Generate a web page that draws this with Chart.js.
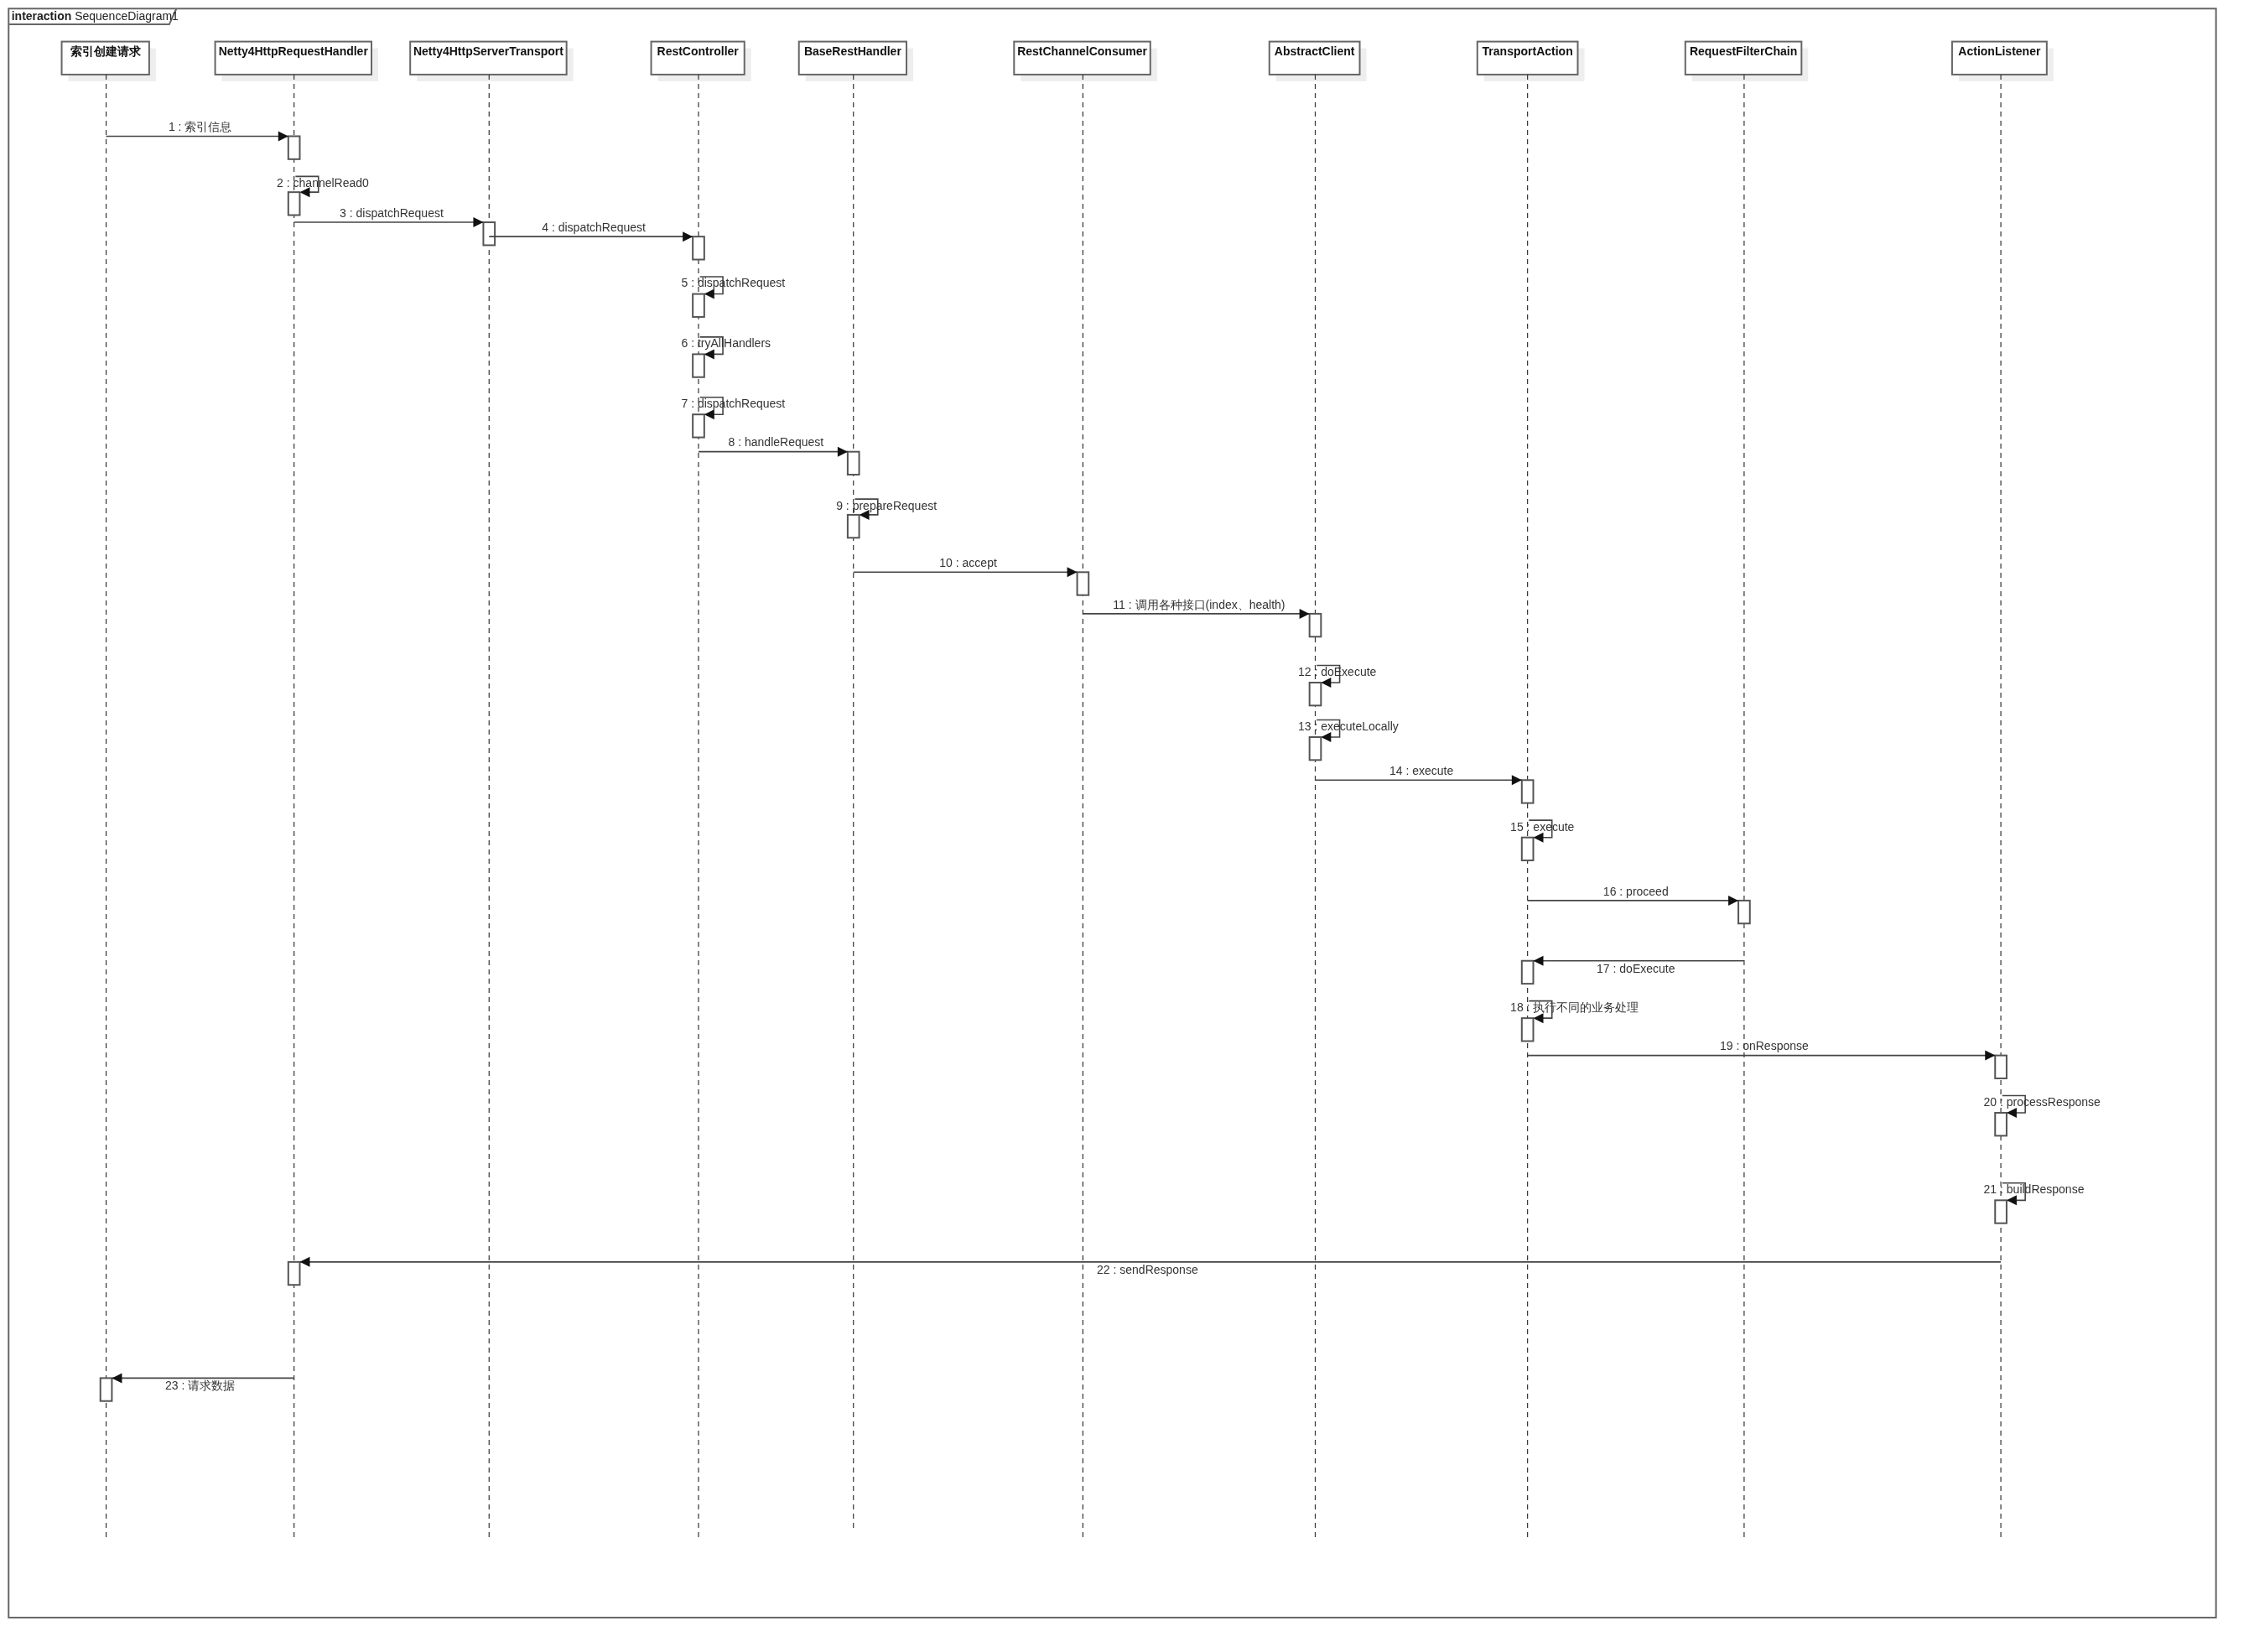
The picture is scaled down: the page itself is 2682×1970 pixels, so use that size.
<!DOCTYPE html>
<html><head><meta charset="utf-8">
<script src="https://cdn.jsdelivr.net/npm/chart.js@4.4.1/dist/chart.umd.min.js"></script>
<style>html,body{margin:0;padding:0;background:#fff}#w{width:2682px;height:1970px}</style>
</head><body><div id="w"><canvas id="c"></canvas></div>
<script>
const participants=["索引创建请求","Netty4HttpRequestHandler","Netty4HttpServerTransport","RestController","BaseRestHandler","RestChannelConsumer","AbstractClient","TransportAction","RequestFilterChain","ActionListener"];
const lifelineX=[74,205,341,487,595,755,917,1065,1216,1395];
const boxLeft=[43,150,286,454,557,707,885,1030,1175,1361];
const boxRight=[104,259,395,519,632,802,948,1100,1256,1427];
const msgLabels=["1 : 索引信息","2 : channelRead0","3 : dispatchRequest","4 : dispatchRequest","5 : dispatchRequest","6 : tryAllHandlers","7 : dispatchRequest","8 : handleRequest","9 : prepareRequest","10 : accept","11 : 调用各种接口(index、health)","12 : doExecute","13 : executeLocally","14 : execute","15 : execute","16 : proceed","17 : doExecute","18 : 执行不同的业务处理","19 : onResponse","20 : processResponse","21 : buildResponse","22 : sendResponse","23 : 请求数据"];
const msgFrom=[0,1,1,2,3,3,3,3,4,4,5,6,6,6,7,7,8,7,7,9,9,9,1];
const msgTo  =[1,1,2,3,3,3,3,4,4,5,6,6,6,7,7,8,7,7,9,9,9,1,0];
const msgY   =[95,123,155,165,193,235,277,315,348,399,428,464,502,544,572,628,670,698,736,764,825,880,961];
const actTop =[95,134,155,165,205,247,289,315,359,399,428,476,514,544,584,628,670,710,736,776,837,880,961];
const XMAX=1568,YMAX=1152,LIFE_END=1072;
const FONT='"Liberation Sans Narrow","Liberation Sans",Arial,sans-serif';

const plugin={id:'seq',afterDatasetsDraw(chart){
 const c=chart.ctx,X=v=>chart.scales.x.getPixelForValue(v),Y=v=>chart.scales.y.getPixelForValue(v);
 c.save();
 // frame
 c.strokeStyle='#666';c.lineWidth=2;
 c.strokeRect(X(6),Y(6),X(1545)-X(6),Y(1128)-Y(6));
 c.beginPath();c.moveTo(X(6),Y(17));c.lineTo(X(118),Y(17));c.lineTo(X(123),Y(6));c.stroke();
 c.fillStyle='#222';c.textBaseline='middle';c.textAlign='left';
 c.font='bold 14px '+FONT;c.fillText('interaction',X(8),Y(11.5));
 const w=c.measureText('interaction ').width;
 c.font='14px '+FONT;c.fillText('SequenceDiagram1',X(8)+w,Y(11.5));
 // participants
 participants.forEach((p,i)=>{
  c.fillStyle='#eee';c.fillRect(X(boxLeft[i])+8,Y(29)+8,X(boxRight[i])-X(boxLeft[i]),Y(52)-Y(29));
  c.fillStyle='#fff';c.fillRect(X(boxLeft[i]),Y(29),X(boxRight[i])-X(boxLeft[i]),Y(52)-Y(29));
  c.strokeStyle='#666';c.lineWidth=2;c.strokeRect(X(boxLeft[i]),Y(29),X(boxRight[i])-X(boxLeft[i]),Y(52)-Y(29));
  c.fillStyle='#111';c.font='bold 14px '+FONT;c.textAlign='center';
  c.fillText(p,X((boxLeft[i]+boxRight[i])/2),Y(36.5));
  c.strokeStyle='#333';c.lineWidth=1.2;c.setLineDash([6,5]);
  c.beginPath();c.moveTo(X(lifelineX[i]),Y(52));c.lineTo(X(i==4?1068:LIFE_END),Y(i==4?1068:LIFE_END));
  c.beginPath();c.moveTo(X(lifelineX[i]),Y(52));c.lineTo(X(lifelineX[i]),Y(i==4?1068:LIFE_END));c.stroke();c.setLineDash([]);
 });
 const arrow=(x,y,dir)=>{c.fillStyle='#111';c.beginPath();c.moveTo(x,y);c.lineTo(x-dir*12,y-6);c.lineTo(x-dir*12,y+6);c.closePath();c.fill();};
 msgLabels.forEach((lab,k)=>{
  const f=msgFrom[k],t=msgTo[k];
  const tx=lifelineX[t];
  // activation
  c.fillStyle='#fff';c.strokeStyle='#555';c.lineWidth=2;
  c.fillRect(X(tx-4),Y(actTop[k]),X(tx+4)-X(tx-4),Y(actTop[k]+16)-Y(actTop[k]));
  c.strokeRect(X(tx-4),Y(actTop[k]),X(tx+4)-X(tx-4),Y(actTop[k]+16)-Y(actTop[k]));
  c.strokeStyle='#444';c.lineWidth=1.6;c.font='14px '+FONT;c.fillStyle='#333';
  if(f===t){
   const y0=msgY[k],y1=actTop[k];
   c.beginPath();c.moveTo(X(tx+1),Y(y0));c.lineTo(X(tx+17),Y(y0));c.lineTo(X(tx+17),Y(y1));c.lineTo(X(tx+5),Y(y1));c.stroke();
   arrow(X(tx+4),Y(y1),-1);
   c.fillStyle='#333';c.textAlign='left';c.fillText(lab,X(tx-12),Y(y0+5));
  }else{
   const fx=lifelineX[f],y=msgY[k],dir=tx>fx?1:-1;
   const end=tx-dir*4;
   c.beginPath();c.moveTo(X(fx),Y(y));c.lineTo(X(end),Y(y));c.stroke();
   arrow(X(end),Y(y),dir);
   c.fillStyle='#333';c.textAlign='center';
   c.fillText(lab,X((fx+tx)/2),Y(dir>0?y-6:y+6));
  }
 });
 c.restore();
}};

new Chart(document.getElementById('c'),{type:'scatter',
 data:{datasets:[{data:lifelineX.map(x=>({x:x,y:52})),pointRadius:0}]},
 options:{responsive:true,maintainAspectRatio:false,animation:false,devicePixelRatio:1,
  layout:{padding:0},plugins:{legend:{display:false},tooltip:{enabled:false}},
  scales:{x:{type:'linear',display:false,min:0,max:XMAX},y:{type:'linear',display:false,min:0,max:YMAX,reverse:true}}},
 plugins:[plugin]});
</script></body></html>
